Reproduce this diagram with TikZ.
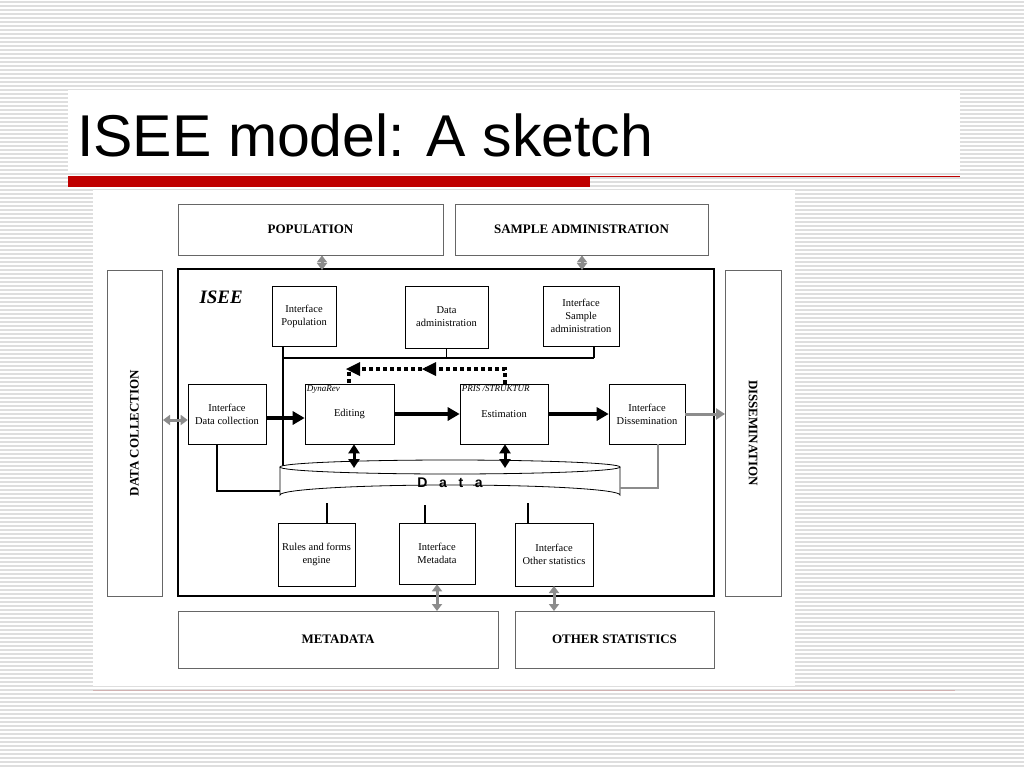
\documentclass[tikz,border=0pt]{standalone}
\usepackage{fontspec}
\setmainfont{Liberation Serif}
\newfontfamily\sansf{Liberation Sans}
\usetikzlibrary{arrows.meta}
\begin{document}
\begin{tikzpicture}[x=1pt,y=-1pt,
  bx/.style={draw,line width=0.6pt,fill=white,align=center,font=\fontsize{10.5}{13}\selectfont,inner sep=1pt},
  hd/.style={draw=black!60,line width=0.8pt,fill=white,font=\bfseries\fontsize{13}{15}\selectfont},
  thk/.style={line width=3.5pt,-{Triangle[length=12pt,width=13pt]}},
  dbl/.style={line width=3pt,{Triangle[length=9pt,width=11pt]}-{Triangle[length=9pt,width=11pt]}},
  gar/.style={draw=black!45,line width=3pt,{Triangle[length=7pt,width=10pt]}-{Triangle[length=7pt,width=10pt]}},
  ln/.style={line width=1.6pt}]
\useasboundingbox (0,0) rectangle (1024,768);
\foreach \y in {2,6,...,766} \draw[black!13,line width=1.2pt] (0,\y) -- (1024,\y);
\fill[white] (68,90) rectangle (960,172);
\fill[white] (93,190) rectangle (795,686);
\node[anchor=base west,font=\sansf\fontsize{59}{62}\selectfont,inner sep=0] (title) at (77,156) {ISEE model: A sketch};
\fill[red!75!black] (68,176) rectangle (590,187);
\draw[red!75!black,line width=0.6pt] (590,176) -- (960,176);
\draw[red!40!black!30,line width=0.6pt] (93,690) -- (955,690);
% outer boxes
\node[hd,minimum width=265,minimum height=51] (pop) at (310.5,229.5) {POPULATION};
\node[hd,minimum width=253,minimum height=51] (samp) at (581.5,229.5) {SAMPLE ADMINISTRATION};
\node[hd,minimum height=55,minimum width=326,rotate=90] (dc) at (134.5,433) {DATA COLLECTION};
\node[hd,minimum height=56,minimum width=326,rotate=-90] (dis) at (753,433) {DISSEMINATION};
\node[hd,minimum width=320,minimum height=57] (meta) at (338,639.5) {METADATA};
\node[hd,minimum width=199,minimum height=57] (oth) at (614.5,639.5) {OTHER STATISTICS};
\draw[line width=2.2pt] (178,269) rectangle (714,596);
\node[anchor=west,font=\bfseries\itshape\fontsize{19}{21}\selectfont] (isee) at (196,297) {ISEE};
% inner boxes
\node[bx,minimum width=64,minimum height=60] (ipop) at (304,316) {Interface\\Population};
\node[bx,minimum width=83,minimum height=62] (dadm) at (446.5,317) {Data\\administration};
\node[bx,minimum width=76,minimum height=60] (isam) at (581,316) {Interface\\Sample\\administration};
\node[bx,minimum width=78,minimum height=60] (idc) at (227,414) {Interface\\Data collection};
\node[bx,minimum width=89,minimum height=60] (edit) at (349.5,414) {Editing};
\node[bx,minimum width=88,minimum height=60] (est) at (504,414) {Estimation};
\node[bx,minimum width=76,minimum height=60] (idis) at (647,414) {Interface\\Dissemination};
\node[anchor=north west,font=\itshape\fontsize{9}{10}\selectfont,inner sep=2pt] (dyn) at (edit.north west) {DynaRev};
\node[anchor=north west,font=\itshape\fontsize{9}{10}\selectfont,inner sep=2pt] (pris) at (est.north west) {PRIS /STRUKTUR};
\node[bx,minimum width=77,minimum height=63] (rules) at (316.5,554.5) {Rules and forms\\engine};
\node[bx,minimum width=76,minimum height=61] (imeta) at (437,553.5) {Interface\\Metadata};
\node[bx,minimum width=78,minimum height=63] (ioth) at (554,554.5) {Interface\\Other statistics};
% bus
\draw[ln] (ipop.south -| 283,0) -- (283,470);
\draw[ln] (283,358) -- (594,358);
\draw[ln] (dadm.south) -- (dadm.south |- 0,358);
\draw[ln] (594,346) -- (594,358);
% data cylinder
\filldraw[fill=white,line width=0.8pt] (280,467) -- (280,495) arc[start angle=180,end angle=360,x radius=170,y radius=10] -- (620,467);
\draw[fill=white,line width=0.8pt] (450,467) ellipse[x radius=170,y radius=7];
\node[font=\sansf\bfseries\fontsize{14}{16}\selectfont] (data) at (450,483) {D\ \ \ a\ \ \ t\ \ \ a};
% dotted feedback
\draw[line width=3.5pt,dash pattern=on 3.5pt off 3.5pt] (est.north -| 505,0) -- (505,369) -- (356,369);
\draw[line width=3.5pt,dash pattern=on 3.5pt off 3.5pt] (349,372) -- (edit.north -| 349,0);
\fill (346,369) -- (360,362) -- (360,376) -- cycle;
\fill (422,369) -- (436,362) -- (436,376) -- cycle;
% thick arrows
\draw[thk] (idc.east |- 0,418) -- (edit.west |- 0,418);
\draw[thk] (edit.east) -- (est.west);
\draw[thk] (est.east) -- (idis.west);
\draw[dbl] (edit.south -| 354,0) -- (354,468);
\draw[dbl] (est.south -| 505,0) -- (505,468);
% side lines
\draw[ln] (idc.south -| 217,0) -- (217,491) -- (280,491);
\draw[ln,black!45] (idis.south -| 658,0) -- (658,488) -- (620,488);
\draw[ln] (327,503) -- (rules.north -| 327,0);
\draw[ln] (425,505) -- (imeta.north -| 425,0);
\draw[ln] (528,503) -- (ioth.north -| 528,0);
% gray arrows
\draw[gar] (pop.south -| 322,0) -- (322,270);
\draw[gar] (samp.south -| 582,0) -- (582,270);
\draw[gar] (163,420) -- (idc.west |- 0,420);
\draw[draw=black!45,line width=3pt,-{Triangle[length=9pt,width=11pt]}] (idis.east) -- (725,414);
\draw[gar] (imeta.south) -- (437,611);
\draw[gar] (554,586) -- (554,611);
\end{tikzpicture}
\end{document}
